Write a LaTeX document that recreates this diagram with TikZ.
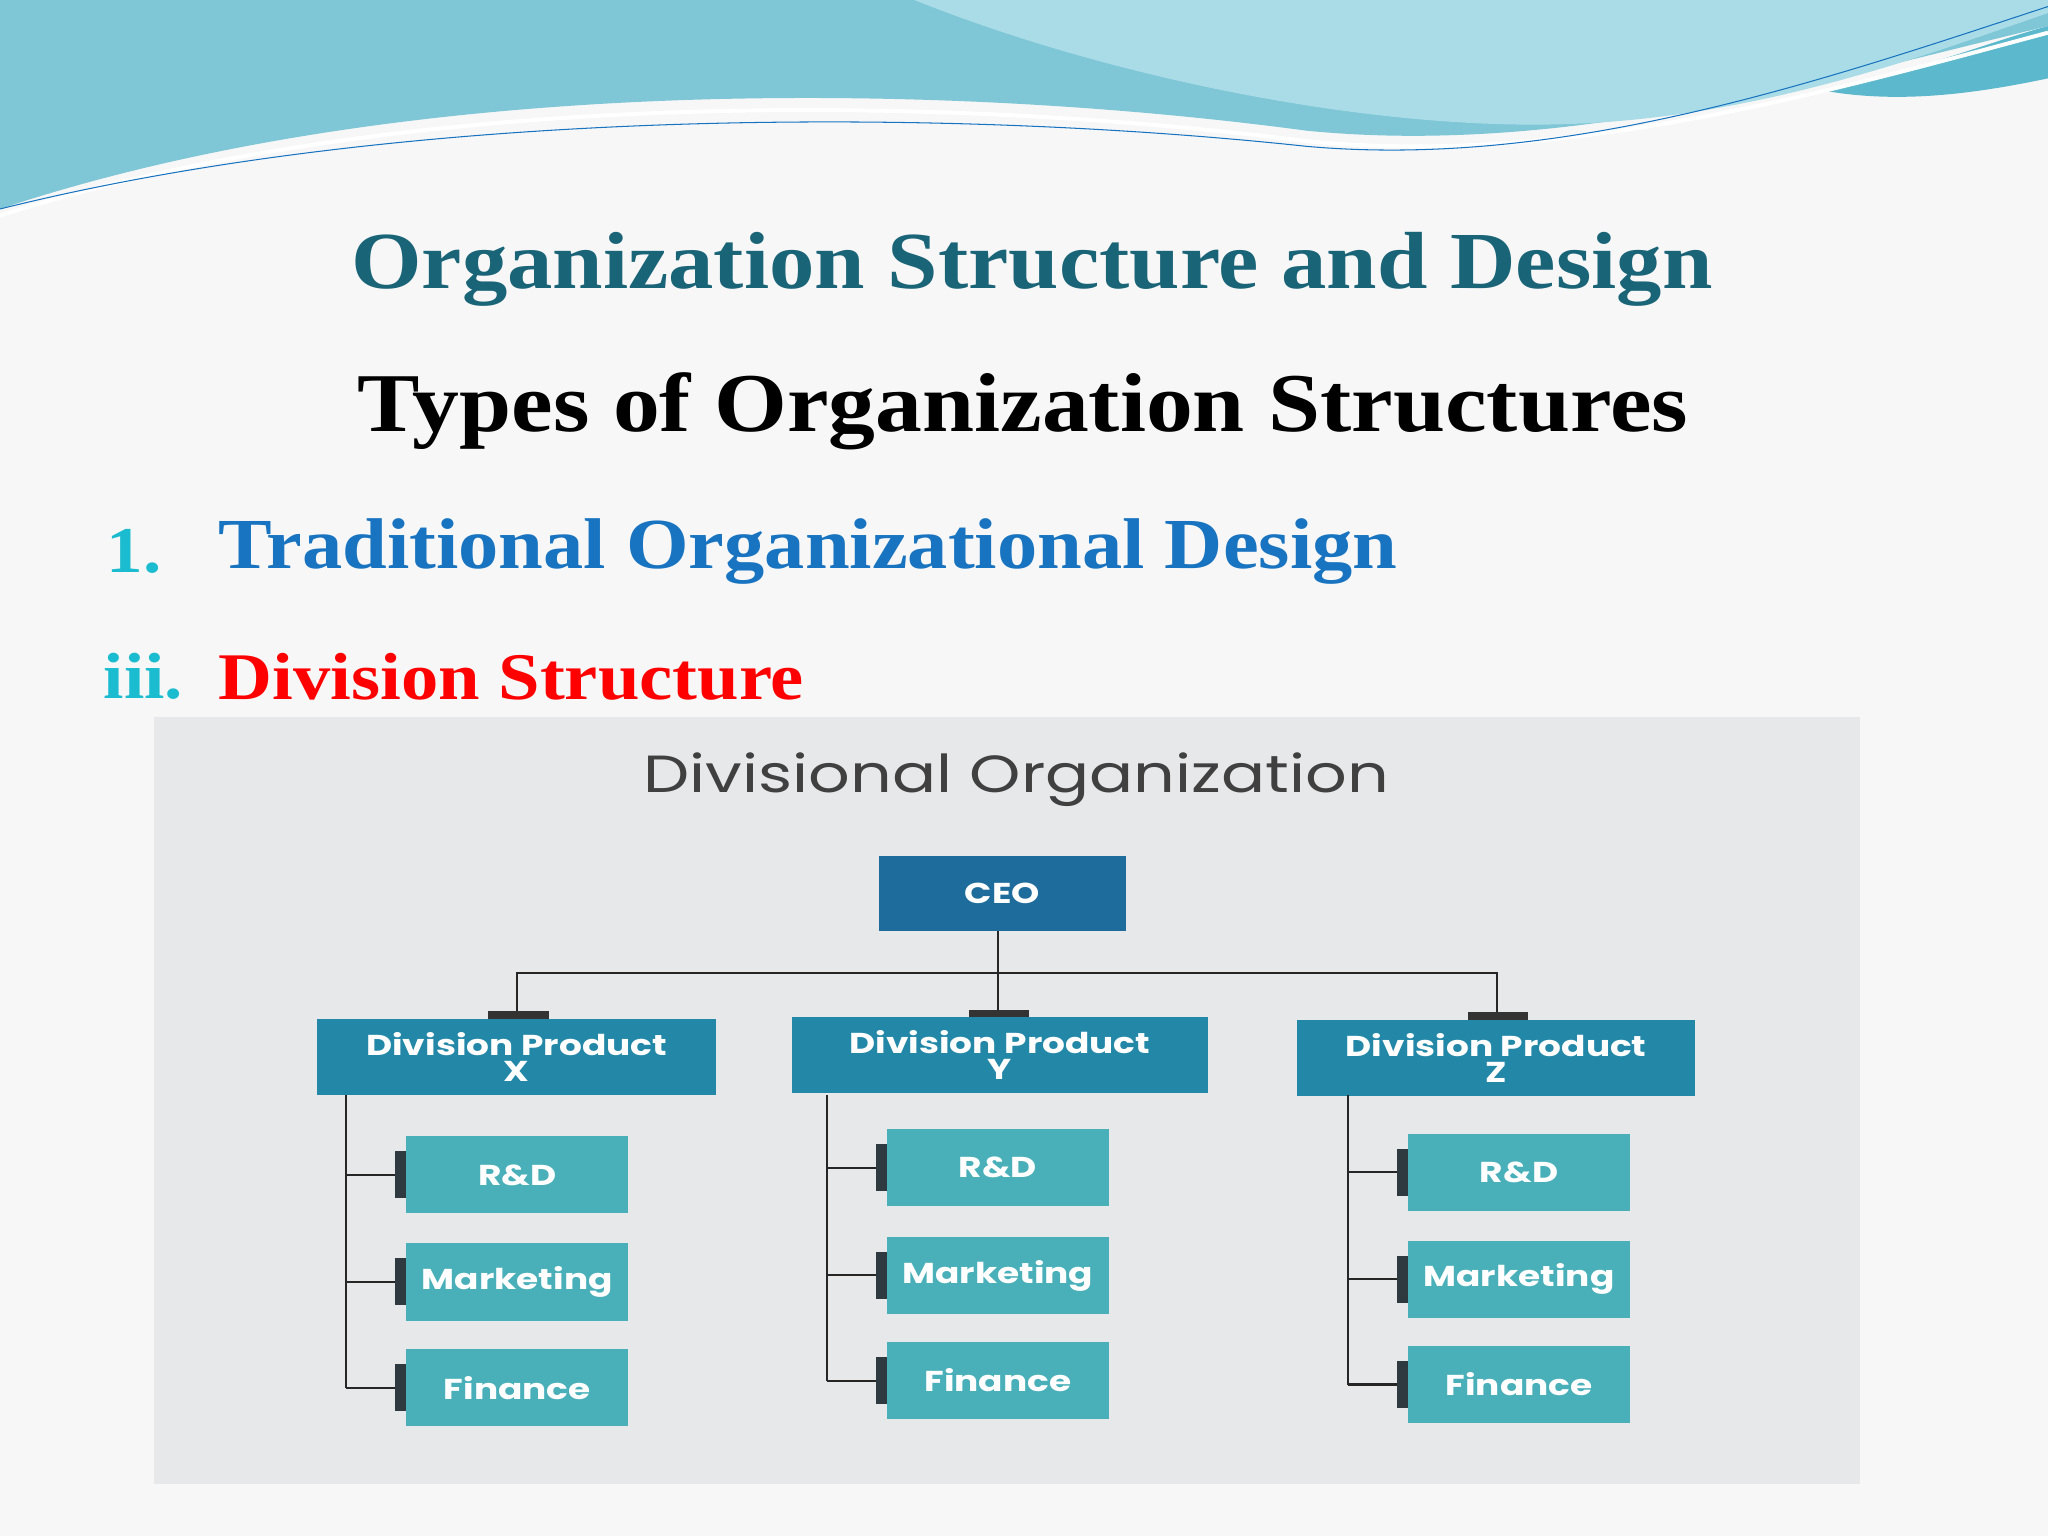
\documentclass[tikz,border=0pt]{standalone}
\usepackage{fontspec}
\setmainfont{Liberation Serif}
\newfontfamily\titfont{Liberation Serif}[FakeStretch=1.12]
\newfontfamily\chartfont{Poppins}[FakeStretch=1.25]
\definecolor{bgc}{HTML}{F7F7F7}
\definecolor{panel}{HTML}{E7E8EA}
\definecolor{ceoc}{HTML}{1D6C9B}
\definecolor{divc}{HTML}{2388A8}
\definecolor{subc}{HTML}{49B0BA}
\definecolor{tabc}{HTML}{2E3A40}
\definecolor{titc}{HTML}{1A6478}
\definecolor{cyanc}{HTML}{1BBCD0}
\definecolor{bluec}{HTML}{1874C0}
\definecolor{waveA}{HTML}{7FC6D6}
\definecolor{waveB}{HTML}{A9DCE6}
\definecolor{waveC}{HTML}{5CB8CC}
\tikzset{
  box/.style={inner sep=0pt,font=\chartfont\bfseries\fontsize{22}{20}\selectfont,text=white,align=center},
  conn/.style={draw=black!85,line width=1.6pt}
}
\begin{document}
\begin{tikzpicture}[x=1pt,y=-1pt]
\fill[bgc] (0,0) rectangle (1568,1176);
\useasboundingbox (0,0) rectangle (1568,1176);
% waves
\fill[waveA] (0,0) -- (0,160) .. controls (300,60) and (700,60) .. (1000,100) .. controls (1200,120) and (1400,60) .. (1568,20) -- (1568,0) -- cycle;
\fill[waveB] (700,0) .. controls (850,60) and (1050,100) .. (1200,95) .. controls (1350,90) and (1480,40) .. (1568,10) -- (1568,0) -- cycle;
\fill[waveC] (1400,70) .. controls (1480,50) and (1530,30) .. (1568,20) -- (1568,60) .. controls (1520,70) and (1460,80) .. (1400,70) -- cycle;
\draw[white,line width=3pt] (0,165) .. controls (300,70) and (700,70) .. (1000,108) .. controls (1200,128) and (1400,70) .. (1568,25);
\draw[bluec,line width=0.8pt] (0,160) .. controls (300,85) and (700,80) .. (1000,112) .. controls (1200,130) and (1400,60) .. (1568,5);
% titles
\node[text=titc,font=\titfont\bfseries\fontsize{62}{70}\selectfont] (t1) at (790,206) {Organization Structure and Design};
\node[text=black,font=\titfont\bfseries\fontsize{64}{66}\selectfont] (t2) at (783,315) {Types of Organization Structures};
\node[anchor=west,text=cyanc,font=\titfont\bfseries\fontsize{50}{54}\selectfont] (n1) at (78,422) {1.};
\node[anchor=west,text=bluec,font=\titfont\bfseries\fontsize{55}{58}\selectfont] (l1) at (164,422) {Traditional Organizational Design};
\node[anchor=west,text=cyanc,font=\titfont\bfseries\fontsize{50}{54}\selectfont] (n2) at (76,518) {iii.};
\node[anchor=west,text=red,font=\titfont\bfseries\fontsize{51}{58}\selectfont] (l2) at (164,518) {Division Structure};
% panel
\fill[panel] (118,549) rectangle (1424,1136);
\node[text=black!75,font=\chartfont\fontsize{40}{44}\selectfont] (pt) at (778,597) {Divisional Organization};
% CEO
\node[box,fill=ceoc,minimum width=189pt,minimum height=58pt] (ceo) at (767.5,684) {CEO};
% divisions
\node[box,fill=divc,minimum width=305pt,minimum height=58pt] (dx) at (395.5,809) {Division Product\\X};
\node[box,fill=divc,minimum width=319pt,minimum height=58pt] (dy) at (765.5,808) {Division Product\\Y};
\node[box,fill=divc,minimum width=305pt,minimum height=58pt] (dz) at (1145.5,810) {Division Product\\Z};
\draw[conn] (764,713) -- (764,774);
\draw[conn] (396,775) -- (396,745) -- (1146,745) -- (1146,776);
\fill[black!80] (374,774) rectangle (420,780);
\fill[black!80] (742,773) rectangle (788,779);
\fill[black!80] (1124,775) rectangle (1170,781);
% sub boxes
\foreach \n/\x/\sx/\ya/\yb/\yc in {x/396/265/899.5/981.5/1062.5, y/764/633/894/976.5/1057, z/1163/1032/897.5/979.5/1060}{
  \node[box,fill=subc,minimum width=170pt,minimum height=59pt] (r\n) at (\x,\ya) {R\&D};
  \node[box,fill=subc,minimum width=170pt,minimum height=59pt] (m\n) at (\x,\yb) {Marketing};
  \node[box,fill=subc,minimum width=170pt,minimum height=59pt] (f\n) at (\x,\yc) {Finance};
  \draw[conn] (\sx,\yc) -- (\sx,838) ;
  \foreach \yy/\nn in {\ya/r\n,\yb/m\n,\yc/f\n}{
    \draw[conn] (\sx,\yy) -- ([xshift=-8pt]\nn.west |- \sx,\yy);
    \fill[tabc] ([xshift=-8pt,yshift=18pt]\nn.west) rectangle ([yshift=-18pt]\nn.west);
  }
}
\end{tikzpicture}
\end{document}
